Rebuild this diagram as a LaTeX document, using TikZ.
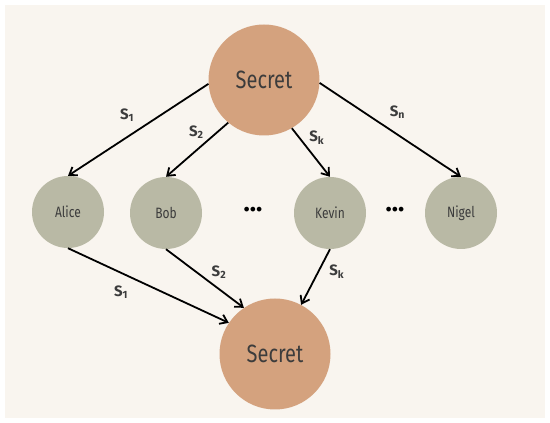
\documentclass[tikz,border=0pt]{standalone}
\usepackage{fontspec}
\setmainfont{Fira Sans}
\newfontfamily\narrowfont[FakeStretch=0.8]{Fira Sans}
\usepackage{tikz}
\usetikzlibrary{arrows.meta}

\definecolor{paper}{HTML}{F9F5EF}
\definecolor{secretfill}{HTML}{D4A27E}
\definecolor{personfill}{HTML}{B9B9A5}
\definecolor{inkgray}{HTML}{3C3C3C}
\newcommand{\share}[1]{\textbf{S}\textsubscript{\textbf{#1}}}

\begin{document}
\begin{tikzpicture}[x=1pt, y=1pt,
  secretnode/.style = {circle, fill=secretfill, minimum size=111pt, inner sep=0pt, text=inkgray, font=\narrowfont\fontsize{25}{25}\selectfont},
  person/.style = {circle, fill=personfill, minimum size=72pt, inner sep=0pt, text=inkgray, font=\narrowfont\fontsize{15}{15}\selectfont},
  sharearrow/.style = {-{Straight Barb[length=7pt, width=10pt, line width=1.8pt]}, line width=1.8pt},
  sharelabel/.style = {font=\fontsize{15}{15}\selectfont, text=inkgray, inner sep=2pt}]
  \useasboundingbox (0,0) rectangle (550,423);
  \fill[paper] (5,5) rectangle (545,418);
  % the secret and its holders
  \node[secretnode] (secret) at (264,343) {Secret};
  \node[person] (alice) at (68,211) {Alice};
  \node[person] (bob) at (166,210) {Bob};
  \node[person] (kevin) at (330,210) {Kevin};
  \node[person] (nigel) at (461,210) {Nigel};
  \node[secretnode] (result) at (275,69) {Secret};
  \node[font=\bfseries\fontsize{26}{26}\selectfont] (dotsa) at (253,213) {...};
  \node[font=\bfseries\fontsize{26}{26}\selectfont] (dotsb) at (395,213) {...};
  % handing out the shares
  \draw[sharearrow] (secret.184) -- (alice.90) node[sharelabel, pos=0.58, above=13pt] {\share{1}};
  \draw[sharearrow] (secret.230) -- (bob.90) node[sharelabel, pos=0.35, above left] {\share{2}};
  \draw[sharearrow] (secret.300) -- (kevin.90) node[sharelabel, pos=0.2, right=7pt] {\share{k}};
  \draw[sharearrow] (secret.357) -- (nigel.90) node[sharelabel, pos=0.55, above=13pt] {\share{n}};
  % putting the secret back together
  \draw[sharearrow] (alice.270) -- (result.146) node[sharelabel, pos=0.33, below=10pt] {\share{1}};
  \draw[sharearrow] (bob.270) -- (result.124) node[sharelabel, pos=0.55, above right] {\share{2}};
  \draw[sharearrow] (kevin.270) -- (result.62) node[sharelabel, pos=0.4, right=8pt] {\share{k}};
\end{tikzpicture}
\end{document}
